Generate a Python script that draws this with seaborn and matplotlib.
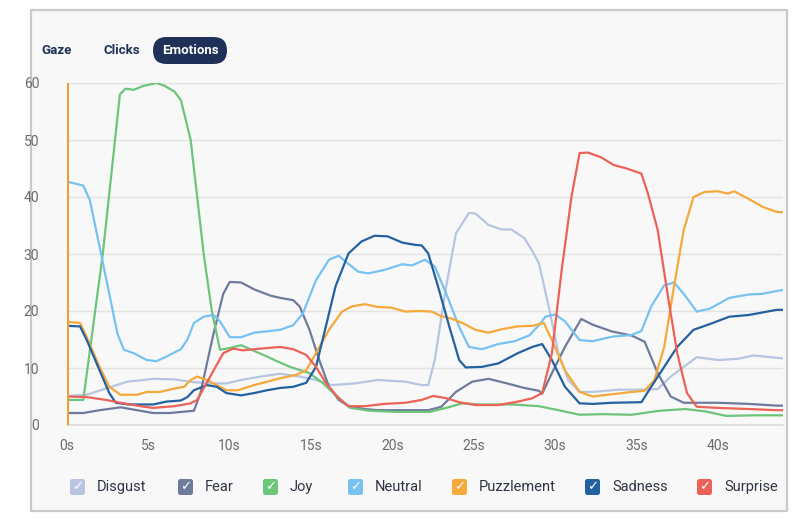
import numpy as np
import pandas as pd
import matplotlib
matplotlib.use("Agg")
import matplotlib.pyplot as plt
import seaborn as sns
from matplotlib.patches import FancyBboxPatch

# values (seconds, score)
disgust_t = [0, 1.2, 2.4, 3.7, 5.3, 6.6, 7.8, 9.0, 9.8, 10.7, 11.9, 13.1, 14.3, 15.3, 16.3, 17.7, 19.1, 20.8, 21.8, 22.2,
             22.6, 23.3, 23.9, 24.7, 25.1, 25.9, 26.7, 27.3, 28.1, 28.6, 29.0, 29.6, 30.2, 30.8, 31.5, 32.3, 33.9, 35.5,
             36.3, 37.1, 37.9, 38.7, 40.0, 41.2, 42.2, 43.6, 44.0]
disgust = [5.1, 5.3, 6.4, 7.6, 8.1, 8.0, 7.5, 7.3, 7.3, 7.9, 8.5, 9.0, 8.5, 7.9, 7.0, 7.3, 7.9, 7.6, 7.0, 7.0,
           11.4, 24.3, 33.6, 37.2, 37.1, 35.1, 34.3, 34.3, 32.8, 30.5, 28.4, 20.8, 12.6, 7.9, 5.8, 5.8, 6.2, 6.2,
           6.3, 8.5, 10.2, 11.9, 11.4, 11.6, 12.2, 11.8, 11.7]

fear_t = [0, 1.0, 2.0, 3.3, 4.3, 5.3, 6.3, 7.8, 8.2, 9.0, 9.6, 10.0, 10.7, 11.5, 12.5, 13.1, 13.9, 14.3, 14.9, 15.5,
          16.1, 16.7, 17.3, 18.3, 19.1, 21.2, 22.2, 23.0, 23.9, 24.9, 25.9, 26.9, 28.1, 29.0, 29.2, 29.8, 30.6, 31.6,
          32.3, 33.5, 34.7, 35.5, 36.3, 37.1, 37.9, 40.0, 41.9, 43.6, 44.0]
fear = [2.1, 2.1, 2.6, 3.1, 2.6, 2.1, 2.1, 2.5, 5.6, 16.0, 23.0, 25.1, 25.0, 23.8, 22.7, 22.3, 21.9, 20.8, 16.7, 11.4,
        6.7, 4.4, 3.3, 2.8, 2.6, 2.6, 2.6, 3.2, 5.8, 7.6, 8.1, 7.4, 6.5, 6.0, 5.5, 9.1, 13.7, 18.6,
        17.6, 16.4, 15.7, 14.6, 9.1, 5.0, 3.9, 3.9, 3.7, 3.4, 3.4]

joy_t = [0, 1.0, 2.2, 3.25, 3.6, 4.1, 4.7, 5.5, 6.0, 6.6, 7.0, 7.6, 8.0, 8.4, 8.9, 9.4, 10.0, 10.7, 11.5, 12.3, 12.9,
         13.7, 14.9, 15.7, 16.6, 17.4, 18.6, 20.2, 22.3, 23.3, 24.3, 25.3, 27.4, 29.0, 30.2, 31.5, 32.9, 34.7, 36.4,
         38.0, 39.2, 40.5, 42.2, 44.0]
joy = [4.4, 4.4, 30.0, 58.0, 59.0, 58.8, 59.5, 60.0, 59.5, 58.5, 57.0, 50.0, 40.0, 30.0, 20.0, 13.2, 13.5, 14.0, 13.0, 12.0, 11.2,
       10.2, 9.1, 7.4, 5.0, 3.0, 2.5, 2.3, 2.3, 3.0, 3.8, 3.6, 3.6, 3.3, 2.6, 1.8, 1.9, 1.8, 2.5,
       2.8, 2.4, 1.6, 1.7, 1.7]

neutral_t = [0, 1.0, 1.4, 2.0, 2.6, 3.1, 3.5, 4.1, 4.9, 5.5, 6.1, 7.0, 7.4, 7.8, 8.4, 9.0, 9.4, 10.0, 10.7, 11.5, 12.5,
             13.1, 13.9, 14.5, 15.3, 16.1, 16.7, 17.1, 17.9, 18.5, 19.5, 20.6, 21.2, 22.0, 22.6, 23.3, 24.1, 24.7,
             25.5, 26.5, 27.5, 28.4, 29.0, 29.4, 30.0, 30.6, 31.5, 32.3, 33.5, 34.7, 35.3, 35.9, 36.7, 37.3, 37.9,
             38.7, 39.5, 40.7, 41.9, 42.7, 43.6, 44.0]
neutral = [42.7, 42.0, 39.5, 31.3, 23.0, 16.0, 13.2, 12.6, 11.4, 11.2, 12.0, 13.3, 15.0, 17.9, 19.0, 19.3, 18.2, 15.4, 15.4, 16.2, 16.5,
           16.7, 17.5, 19.6, 25.4, 29.0, 29.7, 28.7, 26.9, 26.6, 27.2, 28.2, 28.0, 29.0, 27.8, 23.1, 17.2, 13.7,
           13.3, 14.2, 14.7, 15.7, 17.5, 19.0, 19.4, 18.2, 14.9, 14.7, 15.5, 15.8, 16.5, 20.8, 24.5, 25.0, 23.0,
           19.9, 20.4, 22.3, 22.9, 23.0, 23.5, 23.7]

puzzlement_t = [0, 0.8, 1.2, 2.0, 2.6, 3.3, 4.3, 4.9, 5.7, 6.6, 7.2, 7.6, 8.0, 8.6, 9.2, 9.8, 10.5, 11.5, 12.3, 13.1,
                14.1, 14.7, 15.3, 16.1, 16.9, 17.5, 18.3, 19.1, 19.9, 20.8, 21.6, 22.4, 23.0, 23.6, 24.3, 25.1, 25.9,
                26.7, 27.7, 28.6, 29.3, 29.8, 30.6, 31.5, 32.3, 33.5, 34.7, 35.5, 36.1, 36.7, 37.3, 37.9, 38.5, 39.2,
                40.0, 40.6, 41.0, 41.8, 42.8, 43.6, 44.0]
puzzlement = [18.1, 17.9, 15.5, 10.2, 6.7, 5.3, 5.3, 5.8, 5.8, 6.4, 6.7, 7.9, 8.5, 7.9, 7.0, 6.1, 6.1, 7.0, 7.6, 8.2,
              8.8, 9.6, 12.6, 16.7, 19.9, 20.8, 21.2, 20.7, 20.6, 19.9, 20.0, 19.9, 19.1, 18.7, 17.9, 16.7, 16.2,
              16.8, 17.3, 17.4, 17.9, 14.9, 9.6, 5.8, 5.0, 5.4, 5.8, 6.0, 7.9, 13.7, 24.3, 34.2, 40.0, 40.9,
              41.0, 40.6, 41.0, 39.8, 38.2, 37.4, 37.3]

sadness_t = [0, 0.8, 1.2, 2.0, 2.6, 3.0, 3.8, 5.3, 6.1, 7.0, 7.4, 7.8, 8.6, 9.2, 9.8, 10.7, 11.5, 12.3, 13.1, 13.9,
             14.7, 15.3, 15.9, 16.5, 17.3, 18.1, 18.9, 19.7, 20.6, 21.4, 21.8, 22.2, 22.8, 23.5, 24.1, 24.5, 25.5,
             26.5, 27.7, 28.6, 29.2, 29.8, 30.6, 31.5, 32.3, 33.5, 35.3, 35.9, 36.7, 37.5, 38.5, 39.5, 40.7, 41.9,
             43.6, 44.0]
sadness = [17.4, 17.3, 15.0, 9.6, 5.6, 3.9, 3.6, 3.6, 4.1, 4.3, 4.9, 6.1, 7.0, 6.7, 5.6, 5.2, 5.6, 6.1, 6.5, 6.7,
           7.4, 10.2, 17.2, 24.3, 30.1, 32.2, 33.2, 33.1, 32.0, 31.6, 31.5, 30.1, 24.3, 17.2, 11.4, 10.1, 10.2,
           10.8, 12.6, 13.7, 14.2, 11.4, 6.7, 3.8, 3.7, 3.9, 4.0, 6.7, 10.2, 13.7, 16.7, 17.7, 19.0, 19.3,
           20.2, 20.2]

surprise_t = [0, 1.2, 2.4, 3.3, 4.5, 5.3, 6.6, 7.6, 8.0, 8.8, 9.6, 10.2, 10.8, 11.9, 13.1, 13.9, 14.7, 15.3, 15.9,
              16.7, 17.3, 18.3, 19.5, 20.8, 21.8, 22.5, 23.3, 24.1, 25.1, 26.5, 27.7, 28.6, 29.2, 29.8, 30.4, 31.0,
              31.5, 32.0, 32.8, 33.6, 34.4, 35.3, 35.7, 36.3, 36.9, 37.5, 38.1, 38.7, 40.0, 41.9, 43.6, 44.0]
surprise = [5.0, 4.9, 4.4, 3.9, 3.3, 3.0, 3.3, 3.8, 4.4, 8.5, 12.6, 13.4, 13.1, 13.4, 13.7, 13.3, 12.3, 10.2, 7.4,
            4.7, 3.3, 3.3, 3.7, 3.9, 4.4, 5.1, 4.7, 4.0, 3.5, 3.5, 4.1, 4.7, 5.6, 12.6, 27.2, 40.0,
            47.7, 47.8, 47.0, 45.6, 45.0, 44.1, 40.6, 34.2, 23.1, 12.6, 5.6, 3.2, 3.0, 2.8, 2.6, 2.6]

emotions = ["Disgust", "Fear", "Joy", "Neutral", "Puzzlement", "Sadness", "Surprise"]
colors = ["#b7c4e2", "#6f7b9c", "#6cc57a", "#78c2f2", "#f5a93a", "#2461a0", "#ec6256"]
x_ticks = [0, 5, 10, 15, 20, 25, 30, 35, 40]
y_ticks = [0, 10, 20, 30, 40, 50, 60]
tabs = ["Gaze", "Clicks", "Emotions"]

series = {
    "Disgust": (disgust_t, disgust),
    "Fear": (fear_t, fear),
    "Joy": (joy_t, joy),
    "Neutral": (neutral_t, neutral),
    "Puzzlement": (puzzlement_t, puzzlement),
    "Sadness": (sadness_t, sadness),
    "Surprise": (surprise_t, surprise),
}
frames = [pd.DataFrame({"t": t, "value": v, "emotion": name}) for name, (t, v) in series.items()]
df = pd.concat(frames, ignore_index=True)

sns.set_theme(style="white")
plt.rcParams["font.family"] = ["Roboto", "DejaVu Sans"]

fig = plt.figure(figsize=(8, 5.24), dpi=100)
fig.patch.set_facecolor("white")
inch = fig.dpi_scale_trans  # 1 inch = 100 px here


def px_box(x0, y_top, w, h, r, **kw):
    # rounded box placed in pixel coords (top-left origin)
    return FancyBboxPatch((x0 / 100, (524 - y_top - h) / 100), w / 100, h / 100,
                          boxstyle=f"round,pad=0,rounding_size={r / 100}",
                          transform=inch, **kw)


# card background
fig.patches.append(px_box(31, 10, 756, 501, 0.5, facecolor="#f8f8f8",
                          edgecolor="#c9c9c9", linewidth=1.6, zorder=-2))

ax = fig.add_axes([67 / 800, 1 - 425 / 524, (783 - 67) / 800, (425 - 83) / 524])
ax.set_facecolor("none")
ax.set_zorder(1)

sns.lineplot(data=df, x="t", y="value", hue="emotion", hue_order=emotions,
             palette=colors, linewidth=1.6, legend=False, sort=False, ax=ax)
for line in ax.get_lines():
    line.set_solid_joinstyle("round")

ax.set_xlim(0, 44)
ax.set_ylim(0, 60)
ax.set_xticks(x_ticks)
ax.set_xticklabels([f"{t}s" for t in x_ticks])
ax.set_yticks(y_ticks)
ax.tick_params(axis="both", length=0, labelsize=10, colors="#6b6b6b")
ax.tick_params(axis="x", pad=10)
ax.tick_params(axis="y", pad=20)
ax.grid(axis="y", color="#e3e3e3", linewidth=1)
ax.set_xlabel("")
ax.set_ylabel("")
for side in ["top", "right", "left"]:
    ax.spines[side].set_visible(False)
ax.spines["bottom"].set_color("#dcdcdc")
ax.spines["bottom"].set_linewidth(1.2)
# playhead marker at 0s
ax.axvline(0, color="#f0a030", linewidth=2.2, zorder=5)

# tab bar
navy = "#1f3158"
fig.text(57 / 800, 1 - 50 / 524, tabs[0], ha="center", va="center", fontsize=9.5,
         fontweight="bold", color=navy)
fig.text(122 / 800, 1 - 50 / 524, tabs[1], ha="center", va="center", fontsize=9.5,
         fontweight="bold", color=navy)
fig.patches.append(px_box(153, 37, 74, 27, 13.5, facecolor=navy, edgecolor="none", zorder=2))
fig.text(190 / 800, 1 - 50 / 524, tabs[2], ha="center", va="center", fontsize=9.5,
         fontweight="bold", color="white", zorder=3)

# legend with check boxes
box_x = [70, 178, 263, 348, 452, 585, 697]
leg_y = 1 - 487 / 524
for name, col, bx in zip(emotions, colors, box_x):
    fig.patches.append(px_box(bx, 479, 15, 16, 2.5, facecolor=col, edgecolor="none", zorder=2))
    fig.text((bx + 7.5) / 800, leg_y, "\u2713", ha="center", va="center", fontsize=9.5,
             color="white", family=["DejaVu Sans"], zorder=3)
    fig.text((bx + 27) / 800, leg_y, name, ha="left", va="center", fontsize=10.5,
             color="#2f3542")

fig.savefig("out.png", dpi=100)
